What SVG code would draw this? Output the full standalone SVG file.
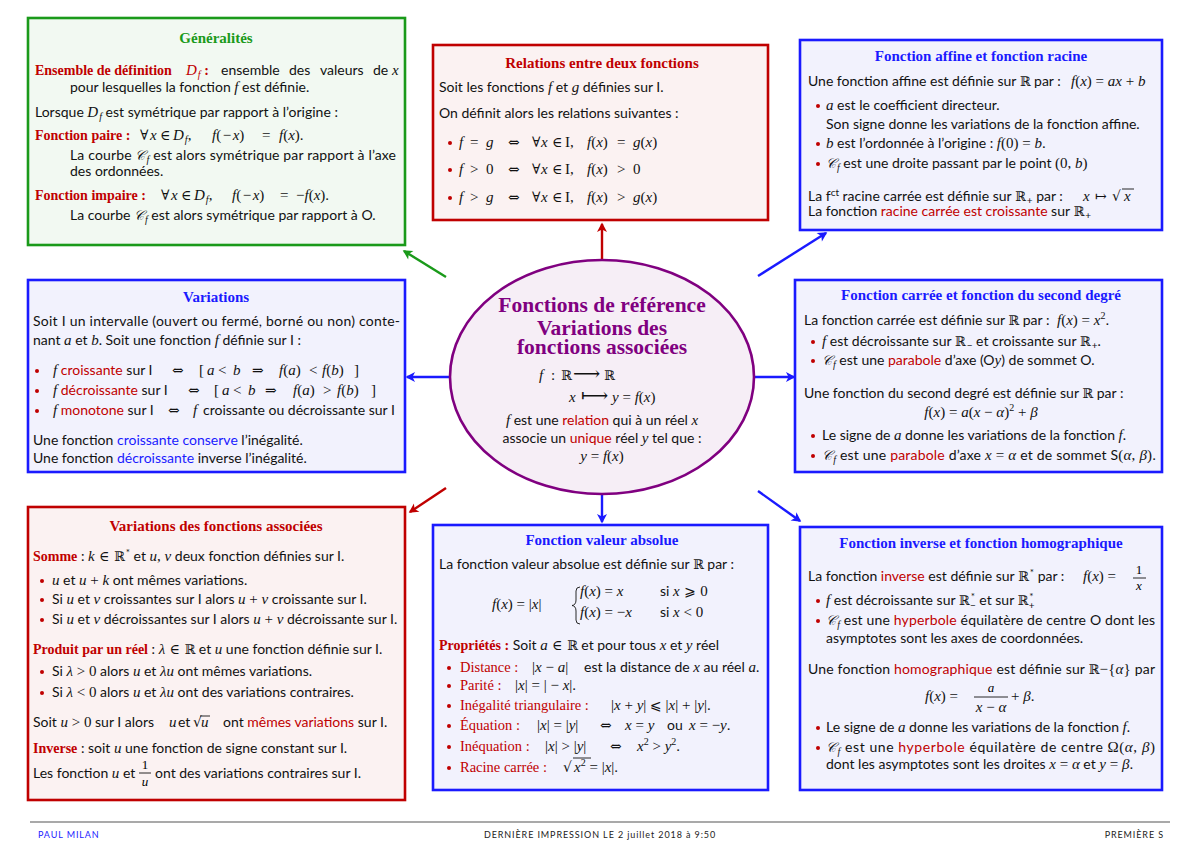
<svg xmlns="http://www.w3.org/2000/svg" width="1200" height="848" viewBox="0 0 1200 848">
<defs>
<style>
.t{font-family:Lato,"Open Sans",sans-serif;font-size:14px;fill:#111}
.m{font-family:"Liberation Serif","DejaVu Serif",serif;font-style:italic;font-size:15px}
.mu{font-family:"Liberation Serif","DejaVu Serif",serif;font-style:normal;font-size:15px}
.sy{font-family:"DejaVu Serif","DejaVu Sans",serif;font-style:normal;font-size:14px}
.R{font-family:"DejaVu Serif","DejaVu Sans",serif;font-style:normal;font-size:13px}
.h{font-family:"Liberation Serif",serif;font-weight:bold;font-size:15px;text-anchor:middle}
.lb{font-family:"Liberation Serif",serif;font-weight:bold;font-size:14px}
.ls{font-family:"Liberation Serif",serif;font-size:14.5px}
.sub{font-size:10px}
.sc{font-family:"DejaVu Serif","DejaVu Sans","Noto Sans",serif;font-style:italic;font-size:13.5px}
.r{fill:#c00000}.g{fill:#1a9a1a}.b{fill:#1a1aff}.p{fill:#800080}
.bx{stroke-width:2.6}
.bg{fill:#f2f9f2;stroke:#1a9a1a}
.br{fill:#fbf2f2;stroke:#c00000}
.bb{fill:#f2f2fd;stroke:#1a1aff}
.dot{fill:#c00000}
.ar{fill:none;stroke-width:2.4}
.ln{stroke:#111;stroke-width:0.9;fill:none}
.ft{font-family:Lato,sans-serif;font-size:9px;letter-spacing:0.9px;fill:#222}
.ti{font-family:"Liberation Serif",serif;font-weight:bold;font-size:21.5px;fill:#800080;text-anchor:middle}
.la{font-size:19px}
</style>
<marker id="mg" viewBox="-10 -6 12 12" refX="0" refY="0" markerWidth="12" markerHeight="12" markerUnits="userSpaceOnUse" orient="auto"><path d="M1.5,0 L-8,-5 L-5.5,0 L-8,5 z" fill="#1a9a1a"/></marker>
<marker id="mr" viewBox="-10 -6 12 12" refX="0" refY="0" markerWidth="12" markerHeight="12" markerUnits="userSpaceOnUse" orient="auto"><path d="M1.5,0 L-8,-5 L-5.5,0 L-8,5 z" fill="#c00000"/></marker>
<marker id="mb" viewBox="-10 -6 12 12" refX="0" refY="0" markerWidth="12" markerHeight="12" markerUnits="userSpaceOnUse" orient="auto"><path d="M1.5,0 L-8,-5 L-5.5,0 L-8,5 z" fill="#1a1aff"/></marker>
</defs>
<rect width="1200" height="848" fill="#ffffff"/>

<g id="connectors">
<path class="ar" d="M446,277 L404,251" stroke="#1a9a1a" marker-end="url(#mg)"/>
<path class="ar" d="M602,260 L602,224" stroke="#c00000" marker-end="url(#mr)"/>
<path class="ar" d="M758,276 L826,233" stroke="#1a1aff" marker-end="url(#mb)"/>
<path class="ar" d="M450,377 L407,377" stroke="#1a1aff" marker-end="url(#mb)"/>
<path class="ar" d="M753,377 L794,377" stroke="#1a1aff" marker-end="url(#mb)"/>
<path class="ar" d="M446,488 L410,512" stroke="#c00000" marker-end="url(#mr)"/>
<path class="ar" d="M602,494 L602,522" stroke="#1a1aff" marker-end="url(#mb)"/>
<path class="ar" d="M758,491 L800,521" stroke="#1a1aff" marker-end="url(#mb)"/>
</g>

<g id="generalites">
<rect class="bx bg" x="28" y="18" width="377" height="227"/>
<text class="h g" x="216" y="43">Généralités</text>
<text class="t" y="75"><tspan x="35" class="lb r">Ensemble de définition</tspan><tspan x="186" class="m r">D</tspan><tspan class="m r sub" dy="3" dx="1">f</tspan><tspan class="lb r" dy="-3"> :</tspan><tspan x="221">ensemble</tspan><tspan x="289">des</tspan><tspan x="320">valeurs</tspan><tspan x="373">de</tspan><tspan x="392" class="m">x</tspan></text>
<text class="t" x="70" y="92">pour lesquelles la fonction <tspan class="m">f</tspan> est définie.</text>
<text class="t" x="35" y="117">Lorsque <tspan class="m">D</tspan><tspan class="m sub" dy="3" dx="1">f</tspan><tspan dy="-3"> est symétrique par rapport à l’origine :</tspan></text>
<text class="t" y="140"><tspan x="35" class="lb r">Fonction paire :</tspan><tspan x="140" class="sy">∀</tspan><tspan x="150" class="m">x</tspan><tspan x="160" class="sy">∈</tspan><tspan x="173" class="m">D</tspan><tspan class="m sub" dy="3" dx="1">f</tspan><tspan class="mu" dy="-3">,</tspan><tspan x="212" class="m">f</tspan><tspan class="mu" style="letter-spacing:1.5px">(−</tspan><tspan class="m">x</tspan><tspan class="mu">)</tspan><tspan x="262" class="mu">=</tspan><tspan x="279" class="m">f</tspan><tspan class="mu">(</tspan><tspan class="m">x</tspan><tspan class="mu">).</tspan></text>
<text class="t" x="70" y="160" textLength="326" lengthAdjust="spacing">La courbe <tspan class="sc">𝒞</tspan><tspan class="m sub" dy="3" dx="1">f</tspan><tspan dy="-3"> est alors symétrique par rapport à l’axe</tspan></text>
<text class="t" x="70" y="176">des ordonnées.</text>
<text class="t" y="200"><tspan x="35" class="lb r">Fonction impaire :</tspan><tspan x="161" class="sy">∀</tspan><tspan x="171" class="m">x</tspan><tspan x="181" class="sy">∈</tspan><tspan x="194" class="m">D</tspan><tspan class="m sub" dy="3" dx="1">f</tspan><tspan class="mu" dy="-3">,</tspan><tspan x="232" class="m">f</tspan><tspan class="mu" style="letter-spacing:1.5px">(−</tspan><tspan class="m">x</tspan><tspan class="mu">)</tspan><tspan x="280" class="mu">=</tspan><tspan x="296" class="mu">−</tspan><tspan class="m">f</tspan><tspan class="mu">(</tspan><tspan class="m">x</tspan><tspan class="mu">).</tspan></text>
<text class="t" x="70" y="220">La courbe <tspan class="sc">𝒞</tspan><tspan class="m sub" dy="3" dx="1">f</tspan><tspan dy="-3"> est alors symétrique par rapport à O.</tspan></text>
</g>

<g id="relations">
<rect class="bx br" x="433" y="45" width="335" height="175"/>
<text class="h r" x="602" y="68">Relations entre deux fonctions</text>
<text class="t" x="439" y="92">Soit les fonctions <tspan class="m">f</tspan> et <tspan class="m">g</tspan> définies sur I.</text>
<text class="t" x="439" y="118">On définit alors les relations suivantes :</text>
<circle class="dot" cx="450" cy="143" r="2"/>
<text class="t" y="147"><tspan x="459" class="m">f</tspan><tspan x="470" class="mu">=</tspan><tspan x="486" class="m">g</tspan><tspan x="508" class="sy">⇔</tspan><tspan x="532" class="sy">∀</tspan><tspan x="541" class="m">x</tspan><tspan x="552" class="sy">∈</tspan><tspan x="565" class="mu">I,</tspan><tspan x="587" class="m">f</tspan><tspan class="mu">(</tspan><tspan class="m">x</tspan><tspan class="mu">)</tspan><tspan x="617" class="mu">=</tspan><tspan x="633" class="m">g</tspan><tspan class="mu">(</tspan><tspan class="m">x</tspan><tspan class="mu">)</tspan></text>
<circle class="dot" cx="450" cy="170" r="2"/>
<text class="t" y="174"><tspan x="459" class="m">f</tspan><tspan x="470" class="mu">&gt;</tspan><tspan x="486" class="mu">0</tspan><tspan x="508" class="sy">⇔</tspan><tspan x="532" class="sy">∀</tspan><tspan x="541" class="m">x</tspan><tspan x="552" class="sy">∈</tspan><tspan x="565" class="mu">I,</tspan><tspan x="587" class="m">f</tspan><tspan class="mu">(</tspan><tspan class="m">x</tspan><tspan class="mu">)</tspan><tspan x="617" class="mu">&gt;</tspan><tspan x="633" class="mu">0</tspan></text>
<circle class="dot" cx="450" cy="198" r="2"/>
<text class="t" y="202"><tspan x="459" class="m">f</tspan><tspan x="470" class="mu">&gt;</tspan><tspan x="486" class="m">g</tspan><tspan x="508" class="sy">⇔</tspan><tspan x="532" class="sy">∀</tspan><tspan x="541" class="m">x</tspan><tspan x="552" class="sy">∈</tspan><tspan x="565" class="mu">I,</tspan><tspan x="587" class="m">f</tspan><tspan class="mu">(</tspan><tspan class="m">x</tspan><tspan class="mu">)</tspan><tspan x="617" class="mu">&gt;</tspan><tspan x="633" class="m">g</tspan><tspan class="mu">(</tspan><tspan class="m">x</tspan><tspan class="mu">)</tspan></text>
</g>

<g id="affine">
<rect class="bx bb" x="800" y="40" width="362" height="190"/>
<text class="h b" x="981" y="61">Fonction affine et fonction racine</text>
<text class="t" x="808" y="86">Une fonction affine est définie sur <tspan class="R">ℝ</tspan> par :<tspan x="1071" class="m">f</tspan><tspan class="mu">(</tspan><tspan class="m">x</tspan><tspan class="mu">) = </tspan><tspan class="m">ax</tspan><tspan class="mu"> + </tspan><tspan class="m">b</tspan></text>
<circle class="dot" cx="818" cy="106" r="2"/>
<text class="t" x="826" y="110"><tspan class="m">a</tspan> est le coefficient directeur.</text>
<text class="t" x="826" y="129">Son signe donne les variations de la fonction affine.</text>
<circle class="dot" cx="818" cy="144" r="2"/>
<text class="t" x="826" y="148"><tspan class="m">b</tspan> est l’ordonnée à l’origine : <tspan class="m">f</tspan><tspan class="mu">(0) = </tspan><tspan class="m">b</tspan><tspan class="mu">.</tspan></text>
<circle class="dot" cx="818" cy="164" r="2"/>
<text class="t" x="826" y="168"><tspan class="sc">𝒞</tspan><tspan class="m sub" dy="3" dx="1">f</tspan><tspan dy="-3"> est une droite passant par le point </tspan><tspan class="mu">(0, </tspan><tspan class="m">b</tspan><tspan class="mu">)</tspan></text>
<text class="t" x="808" y="201">La f<tspan class="sub" dy="-5">ct</tspan><tspan dy="5"> racine carrée est définie sur </tspan><tspan class="R">ℝ</tspan><tspan class="sub" dy="3" dx="1">+</tspan><tspan dy="-3"> par :</tspan><tspan x="1083" class="m">x</tspan><tspan x="1095" class="sy">↦</tspan><tspan x="1112" class="sy">√</tspan><tspan x="1124" class="m">x</tspan></text>
<line class="ln" x1="1122" y1="189" x2="1134" y2="189"/>
<text class="t" x="808" y="216">La fonction <tspan class="r">racine carrée est croissante</tspan> sur <tspan class="R">ℝ</tspan><tspan class="sub" dy="3" dx="1">+</tspan></text>
</g>

<g id="variations">
<rect class="bx bb" x="28" y="280" width="377" height="192"/>
<text class="h b" x="216" y="302">Variations</text>
<text class="t" x="33" y="326" textLength="367" lengthAdjust="spacing">Soit I un intervalle (ouvert ou fermé, borné ou non) conte-</text>
<text class="t" x="33" y="345">nant <tspan class="m">a</tspan> et <tspan class="m">b</tspan>. Soit une fonction <tspan class="m">f</tspan> définie sur I :</text>
<circle class="dot" cx="37" cy="371" r="2"/>
<text class="t" y="375"><tspan x="53" class="m">f</tspan><tspan class="r"> croissante</tspan> sur I<tspan x="172" class="sy">⇔</tspan><tspan x="199" class="mu">[</tspan><tspan x="207" class="m">a</tspan><tspan x="218" class="mu">&lt;</tspan><tspan x="233" class="m">b</tspan><tspan x="252" class="sy">⇒</tspan><tspan x="279" class="m">f</tspan><tspan class="mu">(</tspan><tspan class="m">a</tspan><tspan class="mu">)</tspan><tspan x="309" class="mu">&lt;</tspan><tspan x="322" class="m">f</tspan><tspan class="mu">(</tspan><tspan class="m">b</tspan><tspan class="mu">)</tspan><tspan x="354" class="mu">]</tspan></text>
<circle class="dot" cx="37" cy="391" r="2"/>
<text class="t" y="395"><tspan x="53" class="m">f</tspan><tspan class="r"> décroissante</tspan> sur I<tspan x="188" class="sy">⇔</tspan><tspan x="214" class="mu">[</tspan><tspan x="222" class="m">a</tspan><tspan x="233" class="mu">&lt;</tspan><tspan x="248" class="m">b</tspan><tspan x="265" class="sy">⇒</tspan><tspan x="293" class="m">f</tspan><tspan class="mu">(</tspan><tspan class="m">a</tspan><tspan class="mu">)</tspan><tspan x="323" class="mu">&gt;</tspan><tspan x="337" class="m">f</tspan><tspan class="mu">(</tspan><tspan class="m">b</tspan><tspan class="mu">)</tspan><tspan x="371" class="mu">]</tspan></text>
<circle class="dot" cx="37" cy="411" r="2"/>
<text class="t" y="415"><tspan x="53" class="m">f</tspan><tspan class="r"> monotone</tspan> sur I<tspan x="168" class="sy">⇔</tspan><tspan x="193" class="m">f</tspan><tspan x="203">croissante ou décroissante sur I</tspan></text>
<text class="t" x="33" y="445">Une fonction <tspan class="b">croissante conserve</tspan> l’inégalité.</text>
<text class="t" x="33" y="463">Une fonction <tspan class="b">décroissante</tspan> inverse l’inégalité.</text>
</g>

<g id="centre">
<ellipse cx="602" cy="377" rx="152" ry="117" fill="#f6eef6" stroke="#800080" stroke-width="2.6"/>
<text class="ti" x="602" y="312">Fonctions de référence</text>
<text class="ti" x="602" y="335">Variations des</text>
<text class="ti" x="602" y="354">fonctions associées</text>
<text class="t" y="380"><tspan x="539" class="m">f</tspan><tspan x="551" class="mu">:</tspan><tspan x="561" class="R">ℝ</tspan><tspan x="573" class="sy la">⟶</tspan><tspan x="604" class="R">ℝ</tspan></text>
<text class="t" y="402"><tspan x="569" class="m">x</tspan><tspan x="581" class="sy la">⟼</tspan><tspan x="612" class="m">y</tspan><tspan class="mu"> = </tspan><tspan class="m">f</tspan><tspan class="mu">(</tspan><tspan class="m">x</tspan><tspan class="mu">)</tspan></text>
<text class="t" x="602" y="425" text-anchor="middle"><tspan class="m">f</tspan> est une <tspan class="r">relation</tspan> qui à un réel <tspan class="m">x</tspan></text>
<text class="t" x="602" y="443" text-anchor="middle">associe un <tspan class="r">unique</tspan> réel <tspan class="m">y</tspan> tel que :</text>
<text class="t" x="602" y="461" text-anchor="middle"><tspan class="m">y</tspan><tspan class="mu"> = </tspan><tspan class="m">f</tspan><tspan class="mu">(</tspan><tspan class="m">x</tspan><tspan class="mu">)</tspan></text>
</g>

<g id="carree">
<rect class="bx bb" x="795" y="280" width="367" height="192"/>
<text class="h b" x="981" y="300">Fonction carrée et fonction du second degré</text>
<text class="t" x="804" y="325">La fonction carrée est définie sur <tspan class="R">ℝ</tspan> par :<tspan x="1057" class="m">f</tspan><tspan class="mu">(</tspan><tspan class="m">x</tspan><tspan class="mu">) = </tspan><tspan class="m">x</tspan><tspan class="mu sub" dy="-6">2</tspan><tspan class="mu" dy="6">.</tspan></text>
<circle class="dot" cx="813" cy="342" r="2"/>
<text class="t" x="822" y="346"><tspan class="m">f</tspan> est décroissante sur <tspan class="R">ℝ</tspan><tspan class="sub" dy="3" dx="1">−</tspan><tspan dy="-3"> et croissante sur </tspan><tspan class="R">ℝ</tspan><tspan class="sub" dy="3" dx="1">+</tspan><tspan dy="-3">.</tspan></text>
<circle class="dot" cx="813" cy="361" r="2"/>
<text class="t" x="822" y="365"><tspan class="sc">𝒞</tspan><tspan class="m sub" dy="3" dx="1">f</tspan><tspan dy="-3"> est une </tspan><tspan class="r">parabole</tspan> d’axe (O<tspan class="m">y</tspan>) de sommet O.</text>
<text class="t" x="804" y="398">Une fonction du second degré est définie sur <tspan class="R">ℝ</tspan> par :</text>
<text class="t" x="981" y="417" text-anchor="middle"><tspan class="m">f</tspan><tspan class="mu">(</tspan><tspan class="m">x</tspan><tspan class="mu">) = </tspan><tspan class="m">a</tspan><tspan class="mu">(</tspan><tspan class="m">x</tspan><tspan class="mu"> − </tspan><tspan class="m">α</tspan><tspan class="mu">)</tspan><tspan class="mu sub" dy="-6">2</tspan><tspan class="mu" dy="6"> + </tspan><tspan class="m">β</tspan></text>
<circle class="dot" cx="813" cy="436" r="2"/>
<text class="t" x="822" y="440">Le signe de <tspan class="m">a</tspan> donne les variations de la fonction <tspan class="m">f</tspan>.</text>
<circle class="dot" cx="813" cy="456" r="2"/>
<text class="t" x="822" y="460" textLength="334" lengthAdjust="spacing"><tspan class="sc">𝒞</tspan><tspan class="m sub" dy="3" dx="1">f</tspan><tspan dy="-3"> est une </tspan><tspan class="r">parabole</tspan> d’axe <tspan class="m">x</tspan><tspan class="mu"> = </tspan><tspan class="m">α</tspan> et de sommet S<tspan class="mu">(</tspan><tspan class="m">α</tspan><tspan class="mu">, </tspan><tspan class="m">β</tspan><tspan class="mu">).</tspan></text>
</g>

<g id="associees">
<rect class="bx br" x="28" y="507" width="377" height="293"/>
<text class="h r" x="216" y="531">Variations des fonctions associées</text>
<text class="t" x="33" y="561"><tspan class="lb r">Somme</tspan> : <tspan class="m">k</tspan><tspan class="sy"> ∈ </tspan><tspan class="R">ℝ</tspan><tspan class="sub" dy="-5" dx="1">*</tspan><tspan dy="5"> et </tspan><tspan class="m">u</tspan><tspan class="mu">, </tspan><tspan class="m">v</tspan> deux fonction définies sur I.</text>
<circle class="dot" cx="42" cy="581" r="2"/>
<text class="t" x="52" y="585"><tspan class="m">u</tspan> et <tspan class="m">u</tspan><tspan class="mu"> + </tspan><tspan class="m">k</tspan> ont mêmes variations.</text>
<circle class="dot" cx="42" cy="600" r="2"/>
<text class="t" x="52" y="604">Si <tspan class="m">u</tspan> et <tspan class="m">v</tspan> croissantes sur I alors <tspan class="m">u</tspan><tspan class="mu"> + </tspan><tspan class="m">v</tspan> croissante sur I.</text>
<circle class="dot" cx="42" cy="620" r="2"/>
<text class="t" x="52" y="624">Si <tspan class="m">u</tspan> et <tspan class="m">v</tspan> décroissantes sur I alors <tspan class="m">u</tspan><tspan class="mu"> + </tspan><tspan class="m">v</tspan> décroissante sur I.</text>
<text class="t" x="33" y="654"><tspan class="lb r">Produit par un réel</tspan> : <tspan class="m">λ</tspan><tspan class="sy"> ∈ </tspan><tspan class="R">ℝ</tspan> et <tspan class="m">u</tspan> une fonction définie sur I.</text>
<circle class="dot" cx="42" cy="672" r="2"/>
<text class="t" x="52" y="676">Si <tspan class="m">λ</tspan><tspan class="mu"> &gt; 0</tspan> alors <tspan class="m">u</tspan> et <tspan class="m">λu</tspan> ont mêmes variations.</text>
<circle class="dot" cx="42" cy="693" r="2"/>
<text class="t" x="52" y="697">Si <tspan class="m">λ</tspan><tspan class="mu"> &lt; 0</tspan> alors <tspan class="m">u</tspan> et <tspan class="m">λu</tspan> ont des variations contraires.</text>
<text class="t" y="727"><tspan x="33">Soit </tspan><tspan class="m">u</tspan><tspan class="mu"> &gt; 0</tspan> sur I alors<tspan x="169" class="m">u</tspan><tspan x="178">et</tspan><tspan x="193" class="sy">√</tspan><tspan x="201" class="m">u</tspan><tspan x="223">ont </tspan><tspan class="r">mêmes variations</tspan> sur I.</text>
<line class="ln" x1="200" y1="716" x2="210" y2="716"/>
<text class="t" x="33" y="753"><tspan class="lb r">Inverse</tspan> : soit <tspan class="m">u</tspan> une fonction de signe constant sur I.</text>
<text class="t" y="778"><tspan x="33">Les fonction </tspan><tspan class="m">u</tspan> et<tspan x="155">ont des variations contraires sur I.</tspan></text>
<text class="mu" x="145" y="769" text-anchor="middle" style="font-size:13px">1</text>
<line class="ln" x1="139" y1="773" x2="151" y2="773"/>
<text class="m" x="145" y="786" text-anchor="middle" style="font-size:13px">u</text>
</g>

<g id="absolue">
<rect class="bx bb" x="433" y="525" width="335" height="265"/>
<text class="h b" x="602" y="545">Fonction valeur absolue</text>
<text class="t" x="439" y="569">La fonction valeur absolue est définie sur <tspan class="R">ℝ</tspan> par :</text>
<text class="t" y="609"><tspan x="492" class="m">f</tspan><tspan class="mu">(</tspan><tspan class="m">x</tspan><tspan class="mu">) = |</tspan><tspan class="m">x</tspan><tspan class="mu">|</tspan></text>
<path class="ln" d="M580,587 q-4,0 -4,4 v9 q0,5 -4,5.5 q4,0.5 4,5.5 v9 q0,4 4,4"/>
<text class="t" y="596"><tspan x="580" class="m">f</tspan><tspan class="mu">(</tspan><tspan class="m">x</tspan><tspan class="mu">) = </tspan><tspan class="m">x</tspan><tspan x="660">si </tspan><tspan class="m">x</tspan><tspan class="sy"> ⩾ </tspan><tspan class="mu">0</tspan></text>
<text class="t" y="617"><tspan x="580" class="m">f</tspan><tspan class="mu">(</tspan><tspan class="m">x</tspan><tspan class="mu">) = −</tspan><tspan class="m">x</tspan><tspan x="660">si </tspan><tspan class="m">x</tspan><tspan class="mu"> &lt; 0</tspan></text>
<text class="t" x="439" y="650"><tspan class="lb r">Propriétés :</tspan> Soit <tspan class="m">a</tspan><tspan class="sy"> ∈ </tspan><tspan class="R">ℝ</tspan> et pour tous <tspan class="m">x</tspan> et <tspan class="m">y</tspan> réel</text>
<circle class="dot" cx="449" cy="668" r="2"/>
<text class="t" y="672"><tspan x="460" class="ls r">Distance :</tspan><tspan x="532" class="mu">|</tspan><tspan class="m">x</tspan><tspan class="mu"> − </tspan><tspan class="m">a</tspan><tspan class="mu">|</tspan><tspan x="584">est la distance de </tspan><tspan class="m">x</tspan> au réel <tspan class="m">a</tspan>.</text>
<circle class="dot" cx="449" cy="686" r="2"/>
<text class="t" y="690"><tspan x="460" class="ls r">Parité :</tspan><tspan x="515" class="mu">|</tspan><tspan class="m">x</tspan><tspan class="mu">| = | − </tspan><tspan class="m">x</tspan><tspan class="mu">|.</tspan></text>
<circle class="dot" cx="449" cy="706" r="2"/>
<text class="t" y="710"><tspan x="460" class="ls r">Inégalité triangulaire :</tspan><tspan x="611" class="mu">|</tspan><tspan class="m">x</tspan><tspan class="mu"> + </tspan><tspan class="m">y</tspan><tspan class="mu">| </tspan><tspan class="sy">⩽</tspan><tspan class="mu"> |</tspan><tspan class="m">x</tspan><tspan class="mu">| + |</tspan><tspan class="m">y</tspan><tspan class="mu">|.</tspan></text>
<circle class="dot" cx="449" cy="726" r="2"/>
<text class="t" y="730"><tspan x="460" class="ls r">Équation :</tspan><tspan x="537" class="mu">|</tspan><tspan class="m">x</tspan><tspan class="mu">| = |</tspan><tspan class="m">y</tspan><tspan class="mu">|</tspan><tspan x="600" class="sy">⇔</tspan><tspan x="625" class="m">x</tspan><tspan class="mu"> = </tspan><tspan class="m">y</tspan><tspan x="667">ou</tspan><tspan x="689" class="m">x</tspan><tspan class="mu"> = −</tspan><tspan class="m">y</tspan><tspan class="mu">.</tspan></text>
<circle class="dot" cx="449" cy="747" r="2"/>
<text class="t" y="751"><tspan x="460" class="ls r">Inéquation :</tspan><tspan x="545" class="mu">|</tspan><tspan class="m">x</tspan><tspan class="mu">| &gt; |</tspan><tspan class="m">y</tspan><tspan class="mu">|</tspan><tspan x="610" class="sy">⇔</tspan><tspan x="637" class="m">x</tspan><tspan class="mu sub" dy="-6">2</tspan><tspan class="mu" dy="6"> &gt; </tspan><tspan class="m">y</tspan><tspan class="mu sub" dy="-6">2</tspan><tspan class="mu" dy="6">.</tspan></text>
<circle class="dot" cx="449" cy="768" r="2"/>
<text class="t" y="772"><tspan x="460" class="ls r">Racine carrée :</tspan><tspan x="563" class="sy">√</tspan><tspan x="574" class="m">x</tspan><tspan class="mu sub" dy="-6">2</tspan><tspan class="mu" dy="6"> = |</tspan><tspan class="m">x</tspan><tspan class="mu">|.</tspan></text>
<line class="ln" x1="573" y1="758" x2="591" y2="758"/>
</g>

<g id="inverse">
<rect class="bx bb" x="800" y="527" width="362" height="263"/>
<text class="h b" x="981" y="548">Fonction inverse et fonction homographique</text>
<text class="t" x="808" y="581">La fonction <tspan class="r">inverse</tspan> est définie sur <tspan class="R">ℝ</tspan><tspan class="sub" dy="-5" dx="1">*</tspan><tspan dy="5"> par :</tspan><tspan x="1083" class="m">f</tspan><tspan class="mu">(</tspan><tspan class="m">x</tspan><tspan class="mu">) =</tspan></text>
<text class="mu" x="1139" y="574" text-anchor="middle" style="font-size:13px">1</text>
<line class="ln" x1="1133" y1="578" x2="1146" y2="578"/>
<text class="m" x="1139" y="590" text-anchor="middle" style="font-size:13px">x</text>
<circle class="dot" cx="818" cy="601" r="2"/>
<text class="t" x="826" y="605"><tspan class="m">f</tspan> est décroissante sur <tspan class="R">ℝ</tspan><tspan class="sub" dy="-5" dx="1">*</tspan><tspan class="sub" dx="-5" dy="9">−</tspan><tspan dy="-4"> et sur </tspan><tspan class="R">ℝ</tspan><tspan class="sub" dy="-5" dx="1">*</tspan><tspan class="sub" dx="-5" dy="9">+</tspan></text>
<circle class="dot" cx="818" cy="621" r="2"/>
<text class="t" x="826" y="625" textLength="329" lengthAdjust="spacing"><tspan class="sc">𝒞</tspan><tspan class="m sub" dy="3" dx="1">f</tspan><tspan dy="-3"> est une </tspan><tspan class="r">hyperbole</tspan> équilatère de centre O dont les</text>
<text class="t" x="826" y="643">asymptotes sont les axes de coordonnées.</text>
<text class="t" x="808" y="674" textLength="347" lengthAdjust="spacing">Une fonction <tspan class="r">homographique</tspan> est définie sur <tspan class="R">ℝ</tspan><tspan class="mu">−{</tspan><tspan class="m">α</tspan><tspan class="mu">}</tspan> par</text>
<text class="t" y="701"><tspan x="925" class="m">f</tspan><tspan class="mu">(</tspan><tspan class="m">x</tspan><tspan class="mu">) =</tspan><tspan x="1011" class="mu">+ </tspan><tspan class="m">β</tspan><tspan class="mu">.</tspan></text>
<text class="m" x="991" y="692" text-anchor="middle" style="font-size:13px">a</text>
<line class="ln" x1="974" y1="697" x2="1008" y2="697"/>
<text class="t" x="991" y="712" text-anchor="middle"><tspan class="m">x</tspan><tspan class="mu"> − </tspan><tspan class="m">α</tspan></text>
<circle class="dot" cx="818" cy="728" r="2"/>
<text class="t" x="826" y="732">Le signe de <tspan class="m">a</tspan> donne les variations de la fonction <tspan class="m">f</tspan>.</text>
<circle class="dot" cx="818" cy="748" r="2"/>
<text class="t" x="826" y="752" textLength="329" lengthAdjust="spacing"><tspan class="sc">𝒞</tspan><tspan class="m sub" dy="3" dx="1">f</tspan><tspan dy="-3"> est une </tspan><tspan class="r">hyperbole</tspan> équilatère de centre <tspan class="mu">Ω(</tspan><tspan class="m">α</tspan><tspan class="mu">, </tspan><tspan class="m">β</tspan><tspan class="mu">)</tspan></text>
<text class="t" x="826" y="769">dont les asymptotes sont les droites <tspan class="m">x</tspan><tspan class="mu"> = </tspan><tspan class="m">α</tspan> et <tspan class="m">y</tspan><tspan class="mu"> = </tspan><tspan class="m">β</tspan><tspan class="mu">.</tspan></text>
</g>

<g id="footer">
<line x1="30" y1="822" x2="1170" y2="822" stroke="#555" stroke-width="1.2"/>
<text class="ft" x="38" y="838" style="fill:#1a1aff">PAUL MILAN</text>
<text class="ft" x="600" y="838" text-anchor="middle">DERNIÈRE IMPRESSION LE 2 juillet 2018 à 9:50</text>
<text class="ft" x="1164" y="838" text-anchor="end">PREMIÈRE S</text>
</g>
</svg>
